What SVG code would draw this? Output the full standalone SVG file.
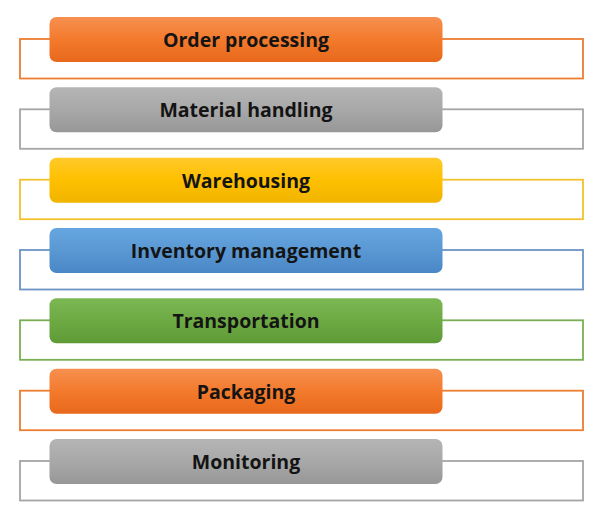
<svg xmlns="http://www.w3.org/2000/svg" width="594" height="511" viewBox="0 0 594 511">
<defs>
<linearGradient id="gOrange" x1="0" y1="0" x2="0" y2="1"><stop offset="0" stop-color="#f69050"/><stop offset="0.5" stop-color="#f37a2c"/><stop offset="1" stop-color="#e8681c"/></linearGradient>
<linearGradient id="gGray" x1="0" y1="0" x2="0" y2="1"><stop offset="0" stop-color="#b5b5b5"/><stop offset="0.5" stop-color="#a8a8a8"/><stop offset="1" stop-color="#979797"/></linearGradient>
<linearGradient id="gYellow" x1="0" y1="0" x2="0" y2="1"><stop offset="0" stop-color="#ffc929"/><stop offset="0.5" stop-color="#ffc000"/><stop offset="1" stop-color="#f0b400"/></linearGradient>
<linearGradient id="gBlue" x1="0" y1="0" x2="0" y2="1"><stop offset="0" stop-color="#66a6e0"/><stop offset="0.5" stop-color="#5a98d4"/><stop offset="1" stop-color="#4a86c6"/></linearGradient>
<linearGradient id="gGreen" x1="0" y1="0" x2="0" y2="1"><stop offset="0" stop-color="#7bb752"/><stop offset="0.5" stop-color="#6eaa44"/><stop offset="1" stop-color="#5e9a35"/></linearGradient>
</defs>
<style>
.frame{fill:none;stroke-width:1.8}
.box{stroke:none}
.lbl{font-family:"Open Sans",Lato,"Liberation Sans",sans-serif;font-weight:bold;font-size:19.5px;fill:#141414;text-anchor:middle}
</style>
<rect width="594" height="511" fill="#ffffff"/>
<g id="node-order-processing">
<rect class="frame" x="20" y="39" width="563" height="39.5" stroke="#ed7d31"/>
<rect class="box" x="49.5" y="17" width="393" height="45" rx="7" fill="url(#gOrange)"/>
<text class="lbl" x="246" y="47">Order processing</text>
</g>
<g id="node-material-handling">
<rect class="frame" x="20" y="109.3" width="563" height="39.5" stroke="#a5a5a5"/>
<rect class="box" x="49.5" y="87.3" width="393" height="45" rx="7" fill="url(#gGray)"/>
<text class="lbl" x="246" y="117.3">Material handling</text>
</g>
<g id="node-warehousing">
<rect class="frame" x="20" y="179.7" width="563" height="39.5" stroke="#f2c12e"/>
<rect class="box" x="49.5" y="157.7" width="393" height="45" rx="7" fill="url(#gYellow)"/>
<text class="lbl" x="246" y="187.7">Warehousing</text>
</g>
<g id="node-inventory-management">
<rect class="frame" x="20" y="250" width="563" height="39.5" stroke="#6a94c4"/>
<rect class="box" x="49.5" y="228" width="393" height="45" rx="7" fill="url(#gBlue)"/>
<text class="lbl" x="246" y="258">Inventory management</text>
</g>
<g id="node-transportation">
<rect class="frame" x="20" y="320.3" width="563" height="39.5" stroke="#7aae55"/>
<rect class="box" x="49.5" y="298.3" width="393" height="45" rx="7" fill="url(#gGreen)"/>
<text class="lbl" x="246" y="328.3">Transportation</text>
</g>
<g id="node-packaging">
<rect class="frame" x="20" y="390.7" width="563" height="39.5" stroke="#ed7d31"/>
<rect class="box" x="49.5" y="368.7" width="393" height="45" rx="7" fill="url(#gOrange)"/>
<text class="lbl" x="246" y="398.7">Packaging</text>
</g>
<g id="node-monitoring">
<rect class="frame" x="20" y="461" width="563" height="39.5" stroke="#a5a5a5"/>
<rect class="box" x="49.5" y="439" width="393" height="45" rx="7" fill="url(#gGray)"/>
<text class="lbl" x="246" y="469">Monitoring</text>
</g>
</svg>
